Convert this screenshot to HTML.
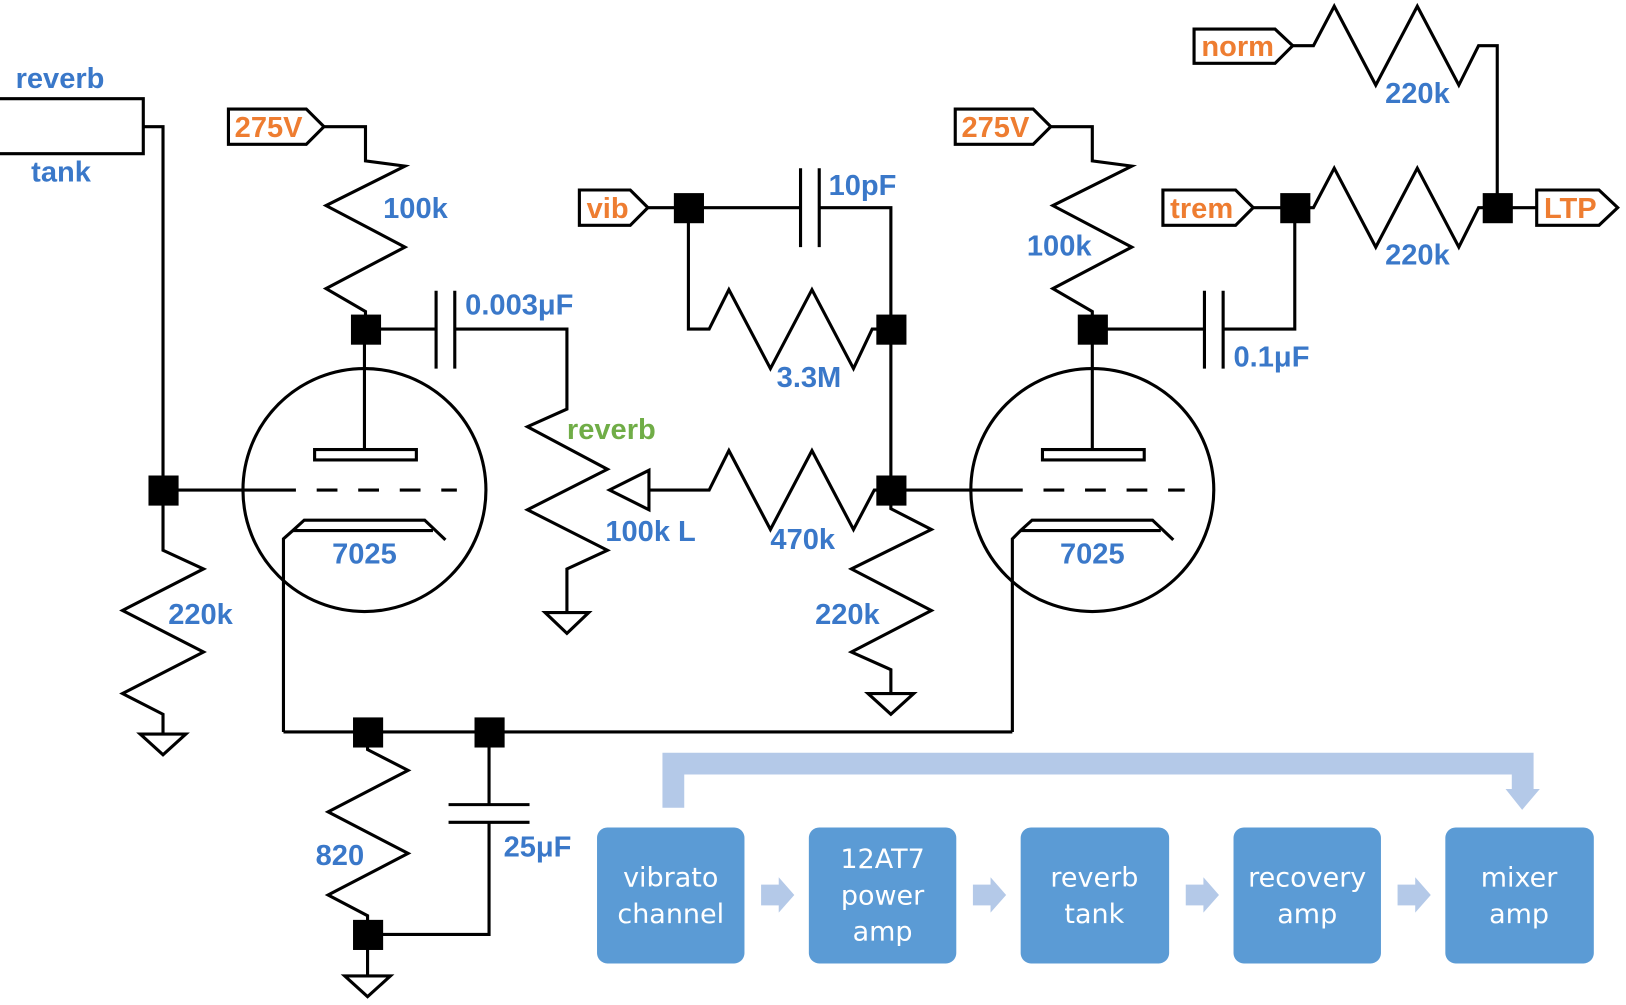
<!DOCTYPE html>
<html><head><meta charset="utf-8"><style>
html,body{margin:0;padding:0;background:#fff;}
svg{display:block;}
.w{fill:none;stroke:#000;stroke-width:3;stroke-linejoin:miter;}
.b{font-family:"Liberation Sans",sans-serif;font-weight:bold;font-size:28px;fill:#3a78c9;}
.o{font-family:"Liberation Sans",sans-serif;font-weight:bold;font-size:28px;fill:#ee7d31;}
.g{font-family:"Liberation Sans",sans-serif;font-weight:bold;font-size:28px;fill:#70ad47;}
.bt{font-family:"DejaVu Sans","Liberation Sans",sans-serif;font-size:26px;fill:#fff;text-anchor:middle;}
.tag{fill:#fff;stroke:#000;stroke-width:3;}
</style></head><body>
<svg width="1626" height="1005" viewBox="0 0 1566 968" preserveAspectRatio="none">
<polyline class="w" points="0,95 138,95 138,148 0,148"/>
<text class="b" x="15" y="85">reverb</text>
<text class="b" x="30" y="175">tank</text>
<polyline class="w" points="138,122 157,122 157,530 196,548 118,588 196,628 118,668 157,688 157,707"/>
<polygon class="w" points="135,707 179,707 157,727"/>
<text class="b" x="162" y="601">220k</text>
<line class="w" x1="157" y1="472" x2="285" y2="472"/>

<circle class="w" cx="351" cy="472" r="117"/>
<rect class="w" x="303" y="433" width="98" height="10"/>
<line class="w" x1="351" y1="317" x2="351" y2="433"/>
<line class="w" x1="285" y1="472" x2="440" y2="472" stroke-dasharray="20,20" stroke-dashoffset="-20"/>
<polyline class="w" points="273,705 273,519 282,511 293,501 409,501 429,520"/>
<line class="w" x1="282" y1="511" x2="417" y2="511"/>
<text class="b" x="351" y="543" text-anchor="middle">7025</text>

<polygon class="tag" points="220,105 295,105 312,122 295,139 220,139"/>
<text class="o" x="226" y="132">275V</text>
<polyline class="w" points="312,122 352,122 352,155 390,160 314,198 390,238 314,278 352,300 352,317"/>
<text class="b" x="369" y="210">100k</text>
<line class="w" x1="352" y1="317" x2="420" y2="317"/>
<line class="w" x1="420" y1="280" x2="420" y2="355"/>
<line class="w" x1="438" y1="280" x2="438" y2="355"/>
<text class="b" x="448" y="303">0.003μF</text>
<polyline class="w" points="438,317 546,317 546,394 508,411 585,452 508,491 585,530 546,548 546,590"/>
<polygon class="w" points="525,590 567,590 546,610"/>
<text class="g" x="546" y="423">reverb</text>
<polygon class="w" points="587,472 625,453 625,491"/>
<polyline class="w" points="625,472 683,472 702,434 742,510 782,434 822,510 842,472 858,472"/>
<text class="b" x="583" y="521">100k L</text>
<text class="b" x="742" y="529">470k</text>

<polygon class="tag" points="558,183 607,183 624,200 607,217 558,217"/>
<text class="o" x="565" y="210">vib</text>
<polyline class="w" points="624,200 771,200"/>
<line class="w" x1="771" y1="162" x2="771" y2="238"/>
<line class="w" x1="789" y1="162" x2="789" y2="238"/>
<polyline class="w" points="789,200 858,200 858,472"/>
<text class="b" x="798" y="188">10pF</text>
<polyline class="w" points="663,200 663,317 683,317 702,279 742,355 782,279 822,355 840,317 858,317"/>
<text class="b" x="748" y="373">3.3M</text>

<line class="w" x1="858" y1="472" x2="985" y2="472"/>
<polyline class="w" points="858,472 858,490 897,510 820,548 897,588 820,628 858,645 858,668"/>
<polygon class="w" points="836,668 880,668 858,688"/>
<text class="b" x="785" y="601">220k</text>

<circle class="w" cx="1052" cy="472" r="117"/>
<rect class="w" x="1004" y="433" width="98" height="10"/>
<line class="w" x1="1052" y1="317" x2="1052" y2="433"/>
<line class="w" x1="985" y1="472" x2="1141" y2="472" stroke-dasharray="20,20" stroke-dashoffset="-20"/>
<polyline class="w" points="975,705 975,519 983,511 994,501 1110,501 1130,520"/>
<line class="w" x1="983" y1="511" x2="1118" y2="511"/>
<text class="b" x="1052" y="543" text-anchor="middle">7025</text>

<polygon class="tag" points="920,105 995,105 1012,122 995,139 920,139"/>
<text class="o" x="926" y="132">275V</text>
<polyline class="w" points="1012,122 1052,122 1052,155 1090,160 1014,198 1090,238 1014,278 1052,300 1052,317"/>
<text class="b" x="989" y="246">100k</text>
<line class="w" x1="1052" y1="317" x2="1160" y2="317"/>
<line class="w" x1="1160" y1="280" x2="1160" y2="355"/>
<line class="w" x1="1178" y1="280" x2="1178" y2="355"/>
<polyline class="w" points="1178,317 1247,317 1247,200"/>
<text class="b" x="1188" y="353">0.1μF</text>

<polygon class="tag" points="1120,183 1190,183 1207,200 1190,217 1120,217"/>
<text class="o" x="1127" y="210">trem</text>
<polyline class="w" points="1207,200 1265,200 1285,162 1325,238 1365,162 1405,238 1424,200 1480,200"/>
<text class="b" x="1334" y="255">220k</text>
<polygon class="tag" points="1480,183 1540,183 1558,200 1540,217 1480,217"/>
<text class="o" x="1487" y="210">LTP</text>
<polyline class="w" points="1442,200 1442,44 1424,44 1405,82 1365,6 1325,82 1285,6 1265,44 1245,44"/>
<text class="b" x="1334" y="99">220k</text>
<polygon class="tag" points="1150,28 1228,28 1245,44 1228,61 1150,61"/>
<text class="o" x="1157" y="54">norm</text>

<line class="w" x1="273" y1="705" x2="975" y2="705"/>
<polyline class="w" points="354,705 354,722 393,742 316,782 393,822 316,862 354,882 354,940"/>
<polygon class="w" points="332,940 376,940 354,960"/>
<text class="b" x="304" y="833">820</text>
<polyline class="w" points="354,900 471,900 471,792"/>
<line class="w" x1="471" y1="705" x2="471" y2="775"/>
<line class="w" x1="432" y1="775" x2="510" y2="775"/>
<line class="w" x1="432" y1="792" x2="510" y2="792"/>
<text class="b" x="485" y="825">25μF</text>

<g fill="#000">
<rect x="143" y="458" width="29" height="29"/>
<rect x="338" y="303" width="29" height="29"/>
<rect x="649" y="186" width="29" height="29"/>
<rect x="844" y="303" width="29" height="29"/>
<rect x="844" y="458" width="29" height="29"/>
<rect x="1038" y="303" width="29" height="29"/>
<rect x="1233" y="186" width="29" height="29"/>
<rect x="1428" y="186" width="29" height="29"/>
<rect x="340" y="691" width="29" height="29"/>
<rect x="457" y="691" width="29" height="29"/>
<rect x="340" y="886" width="29" height="29"/>
</g>

<g fill="#b4c9e8">
<polygon points="638,725 1477,725 1477,760 1483,760 1466,780 1450,760 1456,760 1456,746 659,746 659,778 638,778"/>
<polygon points="733,852 750,852 750,845 765,862 750,879 750,872 733,872"/>
<polygon points="937,852 954,852 954,845 969,862 954,879 954,872 937,872"/>
<polygon points="1142,852 1159,852 1159,845 1174,862 1159,879 1159,872 1142,872"/>
<polygon points="1346,852 1363,852 1363,845 1378,862 1363,879 1363,872 1346,872"/>
</g>
<g fill="#5b9bd5">
<rect x="575" y="797" width="142" height="131" rx="10"/>
<rect x="779" y="797" width="142" height="131" rx="10"/>
<rect x="983" y="797" width="143" height="131" rx="10"/>
<rect x="1188" y="797" width="142" height="131" rx="10"/>
<rect x="1392" y="797" width="143" height="131" rx="10"/>
</g>
<text class="bt" x="646" y="854">vibrato</text><text class="bt" x="646" y="889">channel</text>
<text class="bt" x="850" y="836">12AT7</text><text class="bt" x="850" y="871">power</text><text class="bt" x="850" y="906">amp</text>
<text class="bt" x="1054" y="854">reverb</text><text class="bt" x="1054" y="889">tank</text>
<text class="bt" x="1259" y="854">recovery</text><text class="bt" x="1259" y="889">amp</text>
<text class="bt" x="1463" y="854">mixer</text><text class="bt" x="1463" y="889">amp</text>
</svg>
</body></html>
